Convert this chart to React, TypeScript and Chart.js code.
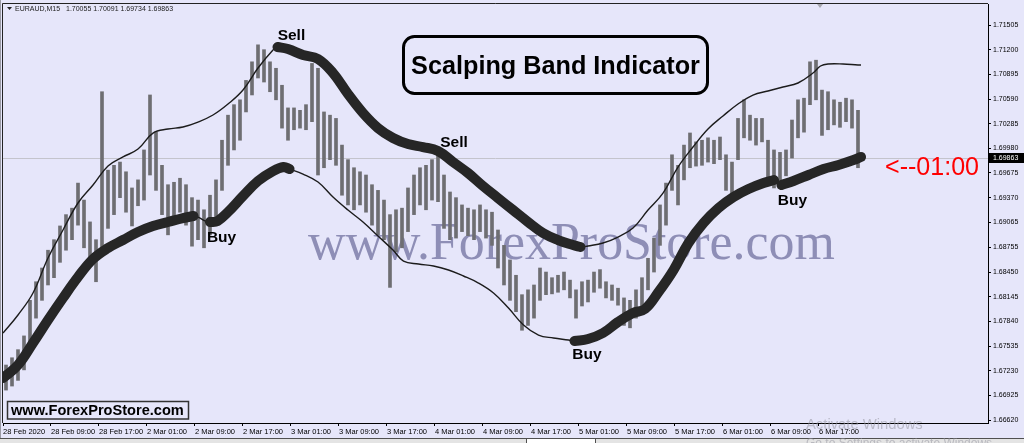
import React, { useEffect, useRef } from "react";
import { Chart, registerables } from "chart.js";

Chart.register(...registerables);

// ---------------- data ----------------
const headerSymbol = "EURAUD,M15";
const headerOHLC = ["1.70055", "1.70091", "1.69734", "1.69863"];
const currentPrice = 1.69863;
const timerText = "<--01:00";
const titleText = "Scalping Band Indicator";
const siteText = "www.ForexProStore.com";

// x axis: bar index (M15 bars) and time labels
const xTickIdx = [0, 32, 64, 96, 128, 160, 192, 224, 256, 288, 320, 352, 384, 416, 448, 480, 512, 544];
const xTickLabels = [
  "28 Feb 2020", "28 Feb 09:00", "28 Feb 17:00", "2 Mar 01:00", "2 Mar 09:00", "2 Mar 17:00",
  "3 Mar 01:00", "3 Mar 09:00", "3 Mar 17:00", "4 Mar 01:00", "4 Mar 09:00", "4 Mar 17:00",
  "5 Mar 01:00", "5 Mar 09:00", "5 Mar 17:00", "6 Mar 01:00", "6 Mar 09:00", "6 Mar 17:00",
];
const yTickVals = [
  1.71505, 1.712, 1.70895, 1.7059, 1.70285, 1.6998, 1.69675, 1.6937, 1.69065,
  1.68755, 1.6845, 1.68145, 1.6784, 1.67535, 1.6723, 1.66925, 1.6662,
];

// price columns (each column = 4 M15 bars): highs and lows
const barHigh = [
  1.6730, 1.6739, 1.6749, 1.6766, 1.6810, 1.6833, 1.6850, 1.6872, 1.6885, 1.6902,
  1.6916, 1.6924, 1.6955, 1.6934, 1.6907, 1.6885, 1.7068, 1.6971, 1.6977, 1.6981,
  1.6969, 1.6949, 1.6959, 1.6996, 1.7064, 1.7018, 1.6977, 1.6953, 1.6956, 1.6961,
  1.6953, 1.6937, 1.6934, 1.6922, 1.6940, 1.6959, 1.7008, 1.7039, 1.7052, 1.7058,
  1.7082, 1.7105, 1.7126, 1.7120, 1.7105, 1.7097, 1.7076, 1.7048, 1.7048, 1.7045,
  1.7052, 1.7103, 1.7097, 1.7043, 1.7039, 1.7035, 1.7002, 1.6984, 1.6974, 1.6969,
  1.6965, 1.6953, 1.6946, 1.6934, 1.6916, 1.6922, 1.6924, 1.6949, 1.6965, 1.6974,
  1.6977, 1.6984, 1.6990, 1.6965, 1.6944, 1.6937, 1.6928, 1.6924, 1.6922, 1.6928,
  1.6922, 1.6919, 1.6897, 1.6878, 1.6860, 1.6841, 1.6817, 1.6823, 1.6829, 1.6850,
  1.6845, 1.6838, 1.6841, 1.6845, 1.6835, 1.6823, 1.6833, 1.6835, 1.6845, 1.6848,
  1.6833, 1.6829, 1.6825, 1.6813, 1.6810, 1.6823, 1.6838, 1.6862, 1.6887, 1.6928,
  1.6955, 1.6990, 1.6977, 1.7002, 1.7017, 1.7006, 1.7008, 1.7011, 1.7008, 1.7012,
  1.6990, 1.6981, 1.7035, 1.7058, 1.7039, 1.7035, 1.7035, 1.7008, 1.6996, 1.6993,
  1.6996, 1.7033, 1.7058, 1.7060, 1.7105, 1.7107, 1.7070, 1.7068, 1.7058, 1.7055,
  1.7060, 1.7058, 1.7045,
];
const barLow = [
  1.6699, 1.6704, 1.6711, 1.6724, 1.6758, 1.6788, 1.6810, 1.6829, 1.6838, 1.6857,
  1.6872, 1.6885, 1.6903, 1.6875, 1.6857, 1.6833, 1.6870, 1.6899, 1.6916, 1.6937,
  1.6919, 1.6902, 1.6927, 1.6934, 1.6965, 1.6946, 1.6916, 1.6891, 1.6907, 1.6919,
  1.6903, 1.6877, 1.6885, 1.6875, 1.6891, 1.6907, 1.6946, 1.6977, 1.6996, 1.7008,
  1.7043, 1.7064, 1.7085, 1.7080, 1.7068, 1.7058, 1.7023, 1.7008, 1.7021, 1.7023,
  1.7021, 1.7031, 1.6965, 1.6974, 1.6984, 1.6977, 1.6940, 1.6928, 1.6922, 1.6928,
  1.6919, 1.6903, 1.6891, 1.6885, 1.6826, 1.6870, 1.6875, 1.6895, 1.6916, 1.6928,
  1.6922, 1.6934, 1.6932, 1.6899, 1.6885, 1.6887, 1.6895, 1.6890, 1.6885, 1.6895,
  1.6887, 1.6878, 1.6850, 1.6829, 1.6810, 1.6796, 1.6773, 1.6779, 1.6788, 1.6810,
  1.6817, 1.6818, 1.6820, 1.6823, 1.6813, 1.6788, 1.6803, 1.6808, 1.6820, 1.6825,
  1.6813, 1.6810, 1.6804, 1.6779, 1.6776, 1.6788, 1.6796, 1.6823, 1.6845, 1.6878,
  1.6903, 1.6946, 1.6928, 1.6959, 1.6974, 1.6976, 1.6977, 1.6981, 1.6979, 1.6984,
  1.6946, 1.6940, 1.6984, 1.7011, 1.7008, 1.7002, 1.7006, 1.6959, 1.6949, 1.6953,
  1.6964, 1.6986, 1.7011, 1.7018, 1.7052, 1.7058, 1.7014, 1.7021, 1.7027, 1.7024,
  1.7031, 1.7023, 1.6974,
];
const barIdx = barHigh.map((_, k) => 4 * k + 2);

// scalping band lines (bar index -> price)
const upperIdx = [0, 10, 20, 30, 40, 50, 60, 70, 80, 90, 100, 110, 120, 130, 140, 150, 160, 170, 180, 183,
  190, 200, 210, 220, 230, 240, 250, 260, 270, 280, 290, 300, 310, 320, 330, 340, 350, 360, 370, 380,
  385, 390, 400, 410, 420, 430, 440, 450, 460, 470, 480, 490, 500, 510, 520, 530, 540, 545, 550, 560, 570, 572];
const upperVal = [1.67696, 1.67919, 1.68191, 1.68623, 1.6897, 1.69304, 1.69526, 1.69761, 1.69873, 1.69971,
  1.70169, 1.70219, 1.70244, 1.70305, 1.70392, 1.70528, 1.70701, 1.70973, 1.71196, 1.71233,
  1.71208, 1.71134, 1.71085, 1.70911, 1.70652, 1.70417, 1.70231, 1.70108, 1.70033, 1.69996,
  1.69947, 1.69811, 1.69675, 1.69514, 1.69365, 1.69217, 1.69069, 1.68933, 1.68846, 1.68784,
  1.6876, 1.68772, 1.68809, 1.68883, 1.68994, 1.69217, 1.69427, 1.69749, 1.69996, 1.70219,
  1.7038, 1.70528, 1.70639, 1.70689, 1.70738, 1.70788, 1.70911, 1.70998, 1.71023, 1.71023,
  1.7101, 1.7101];
const lowerIdx = [0, 10, 20, 30, 40, 50, 60, 70, 80, 90, 100, 110, 120, 127, 130, 135, 138, 143, 150, 160,
  170, 180, 187, 191, 200, 210, 220, 230, 240, 250, 260, 267, 277, 287, 297, 307, 317, 327, 337, 347,
  357, 367, 377, 381, 390, 400, 410, 420, 428, 437, 447, 457, 467, 477, 487, 497, 507, 514, 517, 519,
  527, 537, 547, 557, 567, 572];
const lowerVal = [1.67139, 1.673, 1.67572, 1.67857, 1.68129, 1.68388, 1.68611, 1.68747, 1.68846, 1.68945,
  1.69019, 1.69069, 1.69118, 1.69143, 1.6913, 1.69081, 1.69069, 1.69081, 1.69192, 1.6939,
  1.69576, 1.69699, 1.69749, 1.69724, 1.69662, 1.69563, 1.69378, 1.69217, 1.69069, 1.68896,
  1.68722, 1.68586, 1.68549, 1.68525, 1.68475, 1.68401, 1.68314, 1.68191, 1.68005, 1.67795,
  1.67671, 1.67634, 1.67609, 1.67597, 1.67622, 1.67696, 1.67832, 1.67943, 1.67993, 1.68203,
  1.68475, 1.68809, 1.69056, 1.69242, 1.69378, 1.69477, 1.69551, 1.69588, 1.69539, 1.69526,
  1.69576, 1.6965, 1.69724, 1.69774, 1.69835, 1.69873];
const upperThick = [[183, 385]];
const lowerThick = [[0, 127], [138, 191], [381, 514], [519, 572]];

// signal labels
const signalText = ["Sell", "Sell", "Buy", "Buy", "Buy"];
const signalIdx = [192.3, 300.7, 145.7, 389.3, 526.3];
const signalPrice = [1.71319, 1.69996, 1.68821, 1.67374, 1.69285];

// ---------------- helpers ----------------
const LAV = "#e6e6fa";
const inRanges = (i: number, r: number[][]) => r.some(([a, b]) => i >= a && i <= b);
const pts = (idx: number[], val: number[]) => idx.map((x, k) => ({ x, y: val[k] }));
const thickPts = (idx: number[], val: number[], r: number[][]) =>
  idx.map((x, k) => ({ x, y: inRanges(x, r) ? val[k] : null }));

function fitSize(ctx: CanvasRenderingContext2D, text: string, weight: string, family: string, width: number) {
  ctx.font = `${weight} 100px "${family}"`;
  return (100 * width) / ctx.measureText(text).width;
}

const overlayPlugin = {
  id: "mtOverlay",
  beforeDraw(chart: any) {
    const { ctx, width, height } = chart;
    ctx.save();
    ctx.fillStyle = LAV;
    ctx.fillRect(0, 0, width, height);
    ctx.restore();
  },
  beforeDatasetsDraw(chart: any) {
    const { ctx, chartArea: a, scales } = chart;
    ctx.save();
    // watermark
    const s = fitSize(ctx, siteText, "normal", "Liberation Serif", 527);
    ctx.font = `normal ${s}px "Liberation Serif"`;
    ctx.fillStyle = "#8e8eb6";
    ctx.textAlign = "left";
    ctx.textBaseline = "alphabetic";
    ctx.fillText(siteText, 308, 259);
    // bid line
    const py = Math.round(scales.y.getPixelForValue(currentPrice)) + 0.5;
    ctx.strokeStyle = "#c4c4cc";
    ctx.lineWidth = 1;
    ctx.beginPath();
    ctx.moveTo(a.left, py);
    ctx.lineTo(a.right, py);
    ctx.stroke();
    ctx.restore();
  },
  afterDraw(chart: any) {
    const { ctx, chartArea: a, scales } = chart;
    const xs = scales.x;
    const ys = scales.y;
    ctx.save();
    // frame top / left
    ctx.strokeStyle = "#222";
    ctx.lineWidth = 1;
    ctx.beginPath();
    ctx.moveTo(a.left - 0.5, a.bottom);
    ctx.lineTo(a.left - 0.5, a.top - 0.5);
    ctx.lineTo(a.right, a.top - 0.5);
    ctx.stroke();
    ctx.strokeStyle = "#9a9aa4";
    ctx.beginPath();
    ctx.moveTo(0.5, 0);
    ctx.lineTo(0.5, 443);
    ctx.stroke();

    // header
    ctx.fillStyle = "#222";
    ctx.beginPath();
    ctx.moveTo(7, 7);
    ctx.lineTo(12, 7);
    ctx.lineTo(9.5, 10);
    ctx.closePath();
    ctx.fill();
    ctx.font = `normal 7px "Liberation Sans"`;
    ctx.textAlign = "left";
    ctx.textBaseline = "alphabetic";
    ctx.fillText(headerSymbol, 15, 11);
    ctx.fillText(headerOHLC.join(" "), 66, 11);
    // shift marker
    ctx.fillStyle = "#a8a8b0";
    ctx.beginPath();
    ctx.moveTo(817, 4);
    ctx.lineTo(823, 4);
    ctx.lineTo(820, 8);
    ctx.closePath();
    ctx.fill();

    // title box
    ctx.fillStyle = LAV;
    ctx.strokeStyle = "#000";
    ctx.lineWidth = 3;
    ctx.beginPath();
    (ctx as any).roundRect(403.5, 36.5, 304, 57, 11);
    ctx.fill();
    ctx.stroke();
    ctx.fillStyle = "#000";
    const ts = fitSize(ctx, titleText, "bold", "Liberation Sans", 289);
    ctx.font = `bold ${ts}px "Liberation Sans"`;
    ctx.textAlign = "center";
    ctx.fillText(titleText, 555.5, 74);

    // signal labels
    ctx.font = `bold 15.5px "Liberation Sans"`;
    ctx.textAlign = "center";
    signalText.forEach((t, k) => {
      ctx.fillText(t, xs.getPixelForValue(signalIdx[k]), ys.getPixelForValue(signalPrice[k]));
    });

    // footer site box
    ctx.strokeStyle = "#333";
    ctx.lineWidth = 1.5;
    ctx.strokeRect(7.5, 401.5, 181, 17.5);
    const fs = fitSize(ctx, siteText, "bold", "Liberation Sans", 173);
    ctx.font = `bold ${fs}px "Liberation Sans"`;
    ctx.textAlign = "left";
    ctx.fillStyle = "#000";
    ctx.fillText(siteText, 11, 414.5);

    // current price tag
    const py = ys.getPixelForValue(currentPrice);
    ctx.fillStyle = "#000";
    ctx.fillRect(989, Math.round(py) - 5, 35, 10);
    ctx.fillStyle = "#fff";
    ctx.font = `normal 7px "Liberation Sans"`;
    ctx.textBaseline = "middle";
    ctx.fillText(currentPrice.toFixed(5), 993, Math.round(py) + 0.5);

    // candle timer
    ctx.textBaseline = "alphabetic";
    const rs = fitSize(ctx, timerText, "normal", "Liberation Sans", 94);
    ctx.font = `normal ${rs}px "Liberation Sans"`;
    ctx.fillStyle = "#ff0000";
    ctx.fillText(timerText, 885, 175);

    // bottom tab strip
    ctx.fillStyle = "#e4e4e4";
    ctx.fillRect(0, 438, 1024, 5);
    ctx.strokeStyle = "#505050";
    ctx.lineWidth = 1;
    ctx.beginPath();
    ctx.moveTo(0, 438.5);
    ctx.lineTo(1024, 438.5);
    ctx.stroke();
    ctx.fillStyle = "#ffffff";
    ctx.fillRect(527, 439, 68, 4);
    ctx.beginPath();
    ctx.moveTo(526.5, 439);
    ctx.lineTo(526.5, 443);
    ctx.moveTo(595.5, 439);
    ctx.lineTo(595.5, 443);
    ctx.stroke();

    // OS watermark
    ctx.fillStyle = "rgba(150,150,160,0.55)";
    ctx.font = `normal 14.8px "Liberation Sans"`;
    ctx.fillText("Activate Windows", 806, 429);
    ctx.font = `normal 12px "Liberation Sans"`;
    ctx.fillText("Go to Settings to activate Windows.", 806, 447);
    ctx.restore();
  },
};

export default function App() {
  const ref = useRef<HTMLCanvasElement>(null);
  useEffect(() => {
    document.body.style.margin = "0";
    const canvas = ref.current!;
    const chart = new Chart(canvas, {
      type: "bar",
      data: {
        datasets: [
          {
            type: "bar",
            label: "price",
            data: barIdx.map((x, k) => ({ x, y: [barLow[k], barHigh[k]] })) as any,
            backgroundColor: "#6e6e72",
            borderWidth: 0,
            barThickness: 3,
            order: 10,
          } as any,
          {
            type: "line",
            label: "upper",
            data: pts(upperIdx, upperVal),
            borderColor: "#1c1c1c",
            borderWidth: 1.4,
            pointRadius: 0,
            tension: 0.4,
            order: 5,
          },
          {
            type: "line",
            label: "lower",
            data: pts(lowerIdx, lowerVal),
            borderColor: "#1c1c1c",
            borderWidth: 1.4,
            pointRadius: 0,
            tension: 0.4,
            order: 5,
          },
          {
            type: "line",
            label: "upperThick",
            data: thickPts(upperIdx, upperVal, upperThick) as any,
            borderColor: "#262626",
            borderWidth: 10,
            borderCapStyle: "round",
            borderJoinStyle: "round",
            pointRadius: 0,
            tension: 0.4,
            spanGaps: false,
            order: 1,
          },
          {
            type: "line",
            label: "lowerThick",
            data: thickPts(lowerIdx, lowerVal, lowerThick) as any,
            borderColor: "#262626",
            borderWidth: 10,
            borderCapStyle: "round",
            borderJoinStyle: "round",
            pointRadius: 0,
            tension: 0.4,
            spanGaps: false,
            order: 1,
          },
        ],
      },
      options: {
        responsive: false,
        animation: false,
        devicePixelRatio: 1,
        layout: { padding: { left: 3, top: 4, right: 0, bottom: 0 } },
        plugins: { legend: { display: false }, tooltip: { enabled: false } },
        scales: {
          x: {
            type: "linear",
            min: 0,
            max: 656.67,
            offset: false,
            bounds: "data",
            grid: { display: true, drawOnChartArea: false, drawTicks: true, tickLength: 3, color: "#000", offset: false },
            border: { display: true, color: "#000", width: 1 },
            ticks: {
              autoSkip: false,
              maxRotation: 0,
              minRotation: 0,
              align: "start",
              padding: 1,
              color: "#000",
              font: { family: "Liberation Sans", size: 7.5 },
              callback: (v: any) => {
                const k = xTickIdx.indexOf(Number(v));
                return k >= 0 ? xTickLabels[k] : "";
              },
            },
            afterBuildTicks: (s: any) => {
              s.ticks = xTickIdx.map((value) => ({ value }));
            },
            afterFit: (s: any) => {
              s.height = 20;
              s.paddingLeft = 0;
              s.paddingRight = 0;
            },
          } as any,
          y: {
            type: "linear",
            position: "right",
            min: 1.66583,
            max: 1.71765,
            bounds: "data",
            grid: { display: true, drawOnChartArea: false, drawTicks: true, tickLength: 3, color: "#000" },
            border: { display: true, color: "#000", width: 1 },
            ticks: {
              padding: 2,
              color: "#000",
              font: { family: "Liberation Sans", size: 7 },
              callback: (v: any) => Number(v).toFixed(5),
            },
            afterBuildTicks: (s: any) => {
              s.ticks = yTickVals.map((value) => ({ value }));
            },
            afterFit: (s: any) => {
              s.width = 36;
              s.paddingTop = 0;
              s.paddingBottom = 0;
            },
          } as any,
        },
      },
      plugins: [overlayPlugin],
    });
    return () => chart.destroy();
  }, []);
  return (
    <div style={{ width: 1024, height: 443 }}>
      <canvas ref={ref} width={1024} height={443} style={{ display: "block" }} />
    </div>
  );
}
